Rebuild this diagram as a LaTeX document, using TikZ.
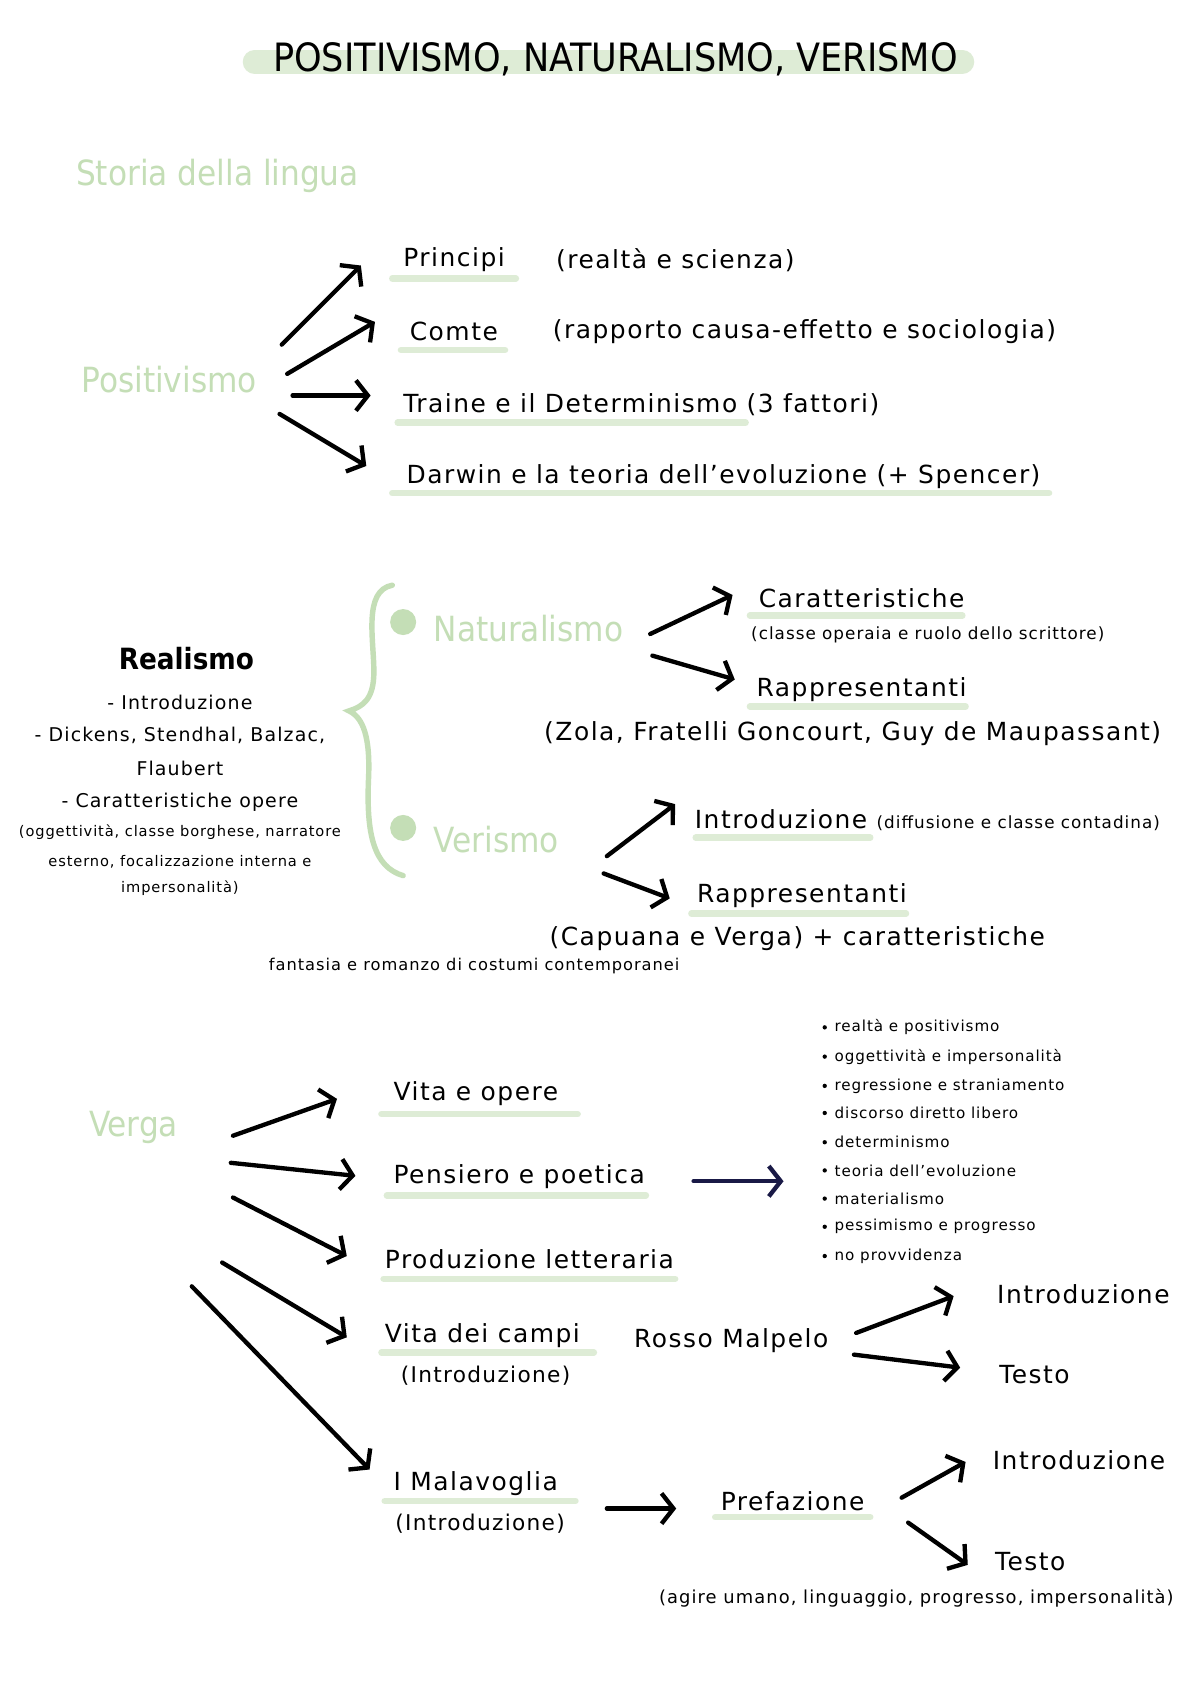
\documentclass[tikz,border=0pt]{standalone}
\usepackage{fontspec}
\setmainfont{DejaVu Sans}[LetterSpace=6]
\newfontfamily\hand{DejaVu Sans Condensed}
\usetikzlibrary{arrows.meta}
\definecolor{hl}{RGB}{222,236,214}
\definecolor{gr}{RGB}{196,222,182}
\definecolor{navy}{RGB}{25,25,70}
\tikzset{
 txt/.style={anchor=west,inner sep=0pt,font=\fontsize{23}{26}\selectfont},
 sm/.style={anchor=west,inner sep=0pt,font=\fontsize{15.5}{18}\selectfont},
 gt/.style={anchor=west,inner sep=0pt,text=gr,font=\hand\fontsize{32}{34}\selectfont},
 ul/.style={draw=hl,line width=6pt,line cap=round},
 arr/.style={line width=4pt,line cap=round,-{Straight Barb[length=11pt,width=28pt,line width=4pt]}},
}
\begin{document}
\begin{tikzpicture}[x=1pt,y=-1pt]
\useasboundingbox (0,0) rectangle (1107,1565);
\fill[white] (0,0) rectangle (1107,1565);
% title
\draw[draw=hl,line width=22pt,line cap=round] (235,57) -- (888,57);
\node[inner sep=0pt,font=\hand\fontsize{36}{40}\selectfont] (title) at (568,55) {POSITIVISMO, NATURALISMO, VERISMO};
\node[gt] (storia) at (70,162) {Storia della lingua};
% Positivismo
\node[gt] (pos) at (75,350) {Positivismo};
\foreach \a/\b/\c/\d/\n in {260/318/333/245/1,265/345/346/297/2,270/365/342/365/3,258/382/338/430/4}{
 \coordinate (ps\n) at (\a,\b); \coordinate (pe\n) at (\c,\d); \draw[arr] (ps\n) -- (pe\n);}
\draw[ul] (362,257) -- (476,257);
\draw[ul] (370,323) -- (466,323);
\draw[ul] (367,390) -- (688,390);
\draw[ul] (362,455) -- (968,455);
\node[txt] (princ) at (372,240) {Principi};
\node[txt] (princ2) at (513,240) {(realtà e scienza)};
\node[txt] (comte) at (378,306) {Comte};
\node[txt] (comte2) at (510,306) {(rapporto causa-effetto e sociologia)};
\node[txt] (traine) at (372,373) {Traine e il Determinismo (3 fattori)};
\node[txt] (darwin) at (375,440) {Darwin e la teoria dell’evoluzione (+ Spencer)};
% Realismo
\node[inner sep=0pt,font=\hand\bfseries\fontsize{27}{30}\selectfont] (real) at (172,608) {Realismo};
\foreach \t/\y/\n in {- Introduzione/648/1,{- Dickens, Stendhal, Balzac,}/679/2,Flaubert/709/3,- Caratteristiche opere/740/4}
 \node[inner sep=0pt,font=\fontsize{17.5}{20}\selectfont] (r\n) at (166,\y) {\t};
\foreach \t/\y/\n in {{(oggettività, classe borghese, narratore}/768/5,{esterno, focalizzazione interna e}/795/6,{impersonalità)}/820/7}
 \node[inner sep=0pt,font=\fontsize{13.5}{16}\selectfont] (r\n) at (166,\y) {\t};
\draw[gr,line width=5pt,line cap=round] (362,540) .. controls (335,545) and (345,590) .. (345,620) .. controls (345,645) and (335,652) .. (322,656) .. controls (335,662) and (342,680) .. (340,720) .. controls (338,770) and (345,800) .. (372,808);
\fill[gr] (372,574) circle (12);
\fill[gr] (372,764) circle (12);
\node[gt] (nat) at (400,580) {Naturalismo};
\node[gt] (ver) at (400,775) {Verismo};
\coordinate (n1) at (600,585); \coordinate (n1e) at (676,549);
\coordinate (n2) at (602,605); \coordinate (n2e) at (678,627);
\draw[arr] (n1) -- (n1e); \draw[arr] (n2) -- (n2e);
\draw[ul] (692,568) -- (888,568);
\draw[ul] (692,652) -- (891,652);
\node[txt] (car) at (700,552) {Caratteristiche};
\node[sm] (car2) at (693,586) {(classe operaia e ruolo dello scrittore)};
\node[txt] (rap) at (698,636) {Rappresentanti};
\node[txt] (zola) at (502,677) {(Zola, Fratelli Goncourt, Guy de Maupassant)};
\coordinate (v1) at (560,790); \coordinate (v1e) at (623,742);
\coordinate (v2) at (557,806); \coordinate (v2e) at (618,829);
\draw[arr] (v1) -- (v1e); \draw[arr] (v2) -- (v2e);
\draw[ul] (642,773) -- (803,773);
\draw[ul] (638,843) -- (836,843);
\node[txt] (intro) at (641,757) {Introduzione \fontsize{15.5}{18}\selectfont(diffusione e classe contadina)};
\node[txt] (rap2) at (643,826) {Rappresentanti};
\node[txt] (cap) at (507,866) {(Capuana e Verga) + caratteristiche};
\node[inner sep=0pt,anchor=west,font=\fontsize{15}{16}\selectfont] (fant) at (248,891) {fantasia e romanzo di costumi contemporanei};
% Verga
\node[gt] (verga) at (82,1040) {Verga};
\foreach \a/\b/\c/\d/\n in {215/1048/311/1014/1,213/1073/328/1085/2,215/1105/320/1159/3,205/1165/320/1234/4,177/1187/341/1356/5}{
 \coordinate (gs\n) at (\a,\b); \coordinate (ge\n) at (\c,\d); \draw[arr] (gs\n) -- (ge\n);}
\draw[ul] (352,1028) -- (533,1028);
\draw[ul] (357,1103) -- (596,1103);
\draw[ul] (354,1180) -- (623,1180);
\draw[ul] (352,1248) -- (548,1248);
\draw[ul] (355,1385) -- (531,1385);
\draw[ul] (660,1400) -- (803,1400);
\node[txt] (vita) at (363,1009) {Vita e opere};
\node[txt] (pens) at (363,1086) {Pensiero e poetica};
\node[txt] (prod) at (355,1162) {Produzione letteraria};
\node[txt] (vdc) at (355,1232) {Vita dei campi};
\node[inner sep=0pt,font=\fontsize{20}{22}\selectfont] (vdc2) at (448,1269) {(Introduzione)};
\coordinate (pa) at (640,1090); \coordinate (pb) at (723,1090);
\draw[arr,navy] (pa) -- (pb);
\foreach \t/\y/\n in {realtà e positivismo/948/1,oggettività e impersonalità/975/2,regressione e straniamento/1002/3,discorso diretto libero/1027/4,determinismo/1054/5,teoria dell’evoluzione/1080/6,materialismo/1106/7,pessimismo e progresso/1132/8,no provvidenza/1159/9}{
 \fill (761,\y) circle (2);
 \node[inner sep=0pt,anchor=west,font=\fontsize{14}{16}\selectfont] (b\n) at (770,\y) {\t};}
\node[txt] (rosso) at (585,1237) {Rosso Malpelo};
\coordinate (r1) at (790,1230); \coordinate (r1e) at (880,1196);
\coordinate (r2) at (788,1250); \coordinate (r2e) at (886,1262);
\draw[arr] (r1) -- (r1e); \draw[arr] (r2) -- (r2e);
\node[txt] (rin) at (920,1194) {Introduzione};
\node[txt] (rte) at (922,1268) {Testo};
\node[txt] (mal) at (363,1369) {I Malavoglia};
\node[inner sep=0pt,font=\fontsize{20}{22}\selectfont] (mal2) at (443,1406) {(Introduzione)};
\coordinate (m1) at (560,1392); \coordinate (m1e) at (624,1392);
\draw[arr] (m1) -- (m1e);
\node[txt] (pref) at (665,1385) {Prefazione};
\coordinate (f1) at (832,1382); \coordinate (f1e) at (891,1349);
\coordinate (f2) at (838,1405); \coordinate (f2e) at (893,1444);
\draw[arr] (f1) -- (f1e); \draw[arr] (f2) -- (f2e);
\node[txt] (pin) at (916,1347) {Introduzione};
\node[txt] (pte) at (918,1441) {Testo};
\node[inner sep=0pt,anchor=west,font=\fontsize{16.5}{20}\selectfont] (agire) at (608,1475) {(agire umano, linguaggio, progresso, impersonalità)};
\end{tikzpicture}
\end{document}
